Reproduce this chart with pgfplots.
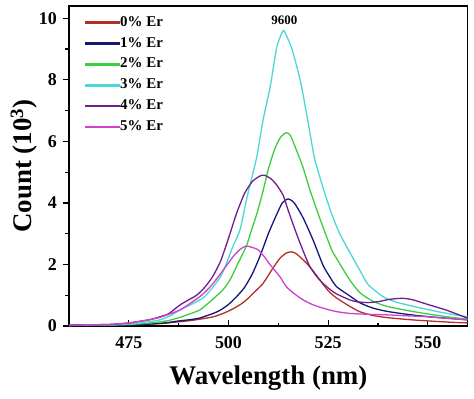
\documentclass[border=0pt]{standalone}
\usepackage{fontspec}
\setmainfont{Liberation Serif}
\usepackage{pgfplots}
\pgfplotsset{compat=1.18}
\definecolor{c0}{RGB}{178,48,40}
\definecolor{c1}{RGB}{22,22,120}
\definecolor{c2}{RGB}{60,205,60}
\definecolor{c3}{RGB}{75,215,215}
\definecolor{c4}{RGB}{112,30,142}
\definecolor{c5}{RGB}{205,65,205}
\begin{document}
\begin{tikzpicture}
\useasboundingbox (-69bp,-73bp) rectangle (405bp,326bp);
\begin{axis}[
  scale only axis, width=398.7bp, height=320bp,
  xmin=460, xmax=560, ymin=0, ymax=10.4,
  xtick={475,500,525,550}, ytick={0,2,4,6,8,10},
  minor x tick num=1, minor y tick num=1,
  tick pos=left,
  xtick align=inside, ytick align=outside,
  major tick length=6bp, minor tick length=3.5bp,
  axis line style={line width=1.5bp},
  every tick/.style={black, line width=1.2bp},
  /pgf/number format/assume math mode=true,
  ticklabel style={font=\fontsize{18}{21}\selectfont\bfseries},
  x tick label style={anchor=base, yshift=-22bp},
  y tick label style={anchor=east, inner sep=0pt, xshift=-6bp},
  xlabel={Wavelength (nm)},
  ylabel={Count (10\textsuperscript{3})},
  label style={font=\fontsize{27}{30}\selectfont\bfseries},
  x label style={at={(axis description cs:0.5,-0.184)}, anchor=base},
  y label style={at={(axis description cs:-0.0928,0.5)}, anchor=base},
  legend style={draw=none, fill=none, at={(axis description cs:0.04,0.969)}, anchor=north west,
    font=\fontsize{15}{17}\selectfont\bfseries, inner sep=0pt, row sep=7.9bp,
    nodes={inner sep=0pt, text height=10bp, text depth=3bp}},
  legend cell align=left,
  /tikz/every even column/.append style={column sep=3bp},
  legend image code/.code={\path[draw=none, fill, #1] (0bp,-1.2bp) rectangle (35bp,1.2bp);},
  every axis plot/.append style={line width=1.3bp, smooth, tension=0.4},
]
% 0% Er
\addplot[c0] coordinates {(460,0.02) (465,0.02) (470,0.03) (475,0.04) (480,0.06) (484,0.09) (487.8,0.14) (490,0.17) (492.8,0.22) (496.2,0.3) (498.7,0.41) (501,0.55) (503,0.7) (504.5,0.85) (506.5,1.1) (508.7,1.39) (511,1.85) (512.9,2.2) (514.5,2.37) (515.8,2.41) (517,2.35) (519.6,2.04) (521.3,1.78) (522.9,1.5) (525,1.15) (527,0.92) (530.4,0.64) (533,0.46) (536.3,0.34) (540,0.27) (546,0.2) (552,0.15) (556,0.12) (560,0.1)};
% 1% Er
\addplot[c1] coordinates {(460,0.02) (465,0.02) (470,0.03) (475,0.04) (480,0.06) (484,0.1) (487.8,0.17) (490,0.2) (492.8,0.26) (496.2,0.41) (498,0.52) (500,0.7) (502,0.95) (504,1.25) (506,1.7) (508,2.3) (510,3.0) (512,3.6) (513.5,4.0) (515,4.13) (516.5,4.0) (518.7,3.52) (521.2,2.8) (523.7,1.98) (525.4,1.6) (527.1,1.28) (530.4,0.98) (533,0.75) (536.3,0.58) (540,0.47) (546,0.36) (552,0.28) (556,0.24) (560,0.2)};
% 2% Er
\addplot[c2] coordinates {(460,0.02) (465,0.03) (470,0.03) (475,0.05) (478,0.07) (482,0.12) (485,0.18) (487.8,0.28) (490,0.38) (492.8,0.52) (495,0.75) (497,0.98) (498.7,1.19) (500.4,1.5) (502.4,2.04) (504.5,2.6) (505.8,3.13) (507,3.6) (508.5,4.3) (510,5.1) (511.6,5.75) (513,6.12) (514.4,6.28) (515.5,6.2) (517,5.73) (518.7,5.15) (520.4,4.43) (522.9,3.5) (525.8,2.5) (527.1,2.2) (530.4,1.5) (533,1.08) (536.3,0.8) (540,0.63) (546.3,0.47) (552,0.35) (556,0.28) (560,0.22)};
% 3% Er
\addplot[c3] coordinates {(460,0.02) (465,0.03) (470,0.04) (475,0.06) (478,0.1) (482.8,0.2) (485.5,0.34) (487.8,0.52) (489.5,0.63) (491.6,0.76) (494,0.95) (496.2,1.28) (498,1.6) (499.5,2.04) (501,2.55) (502.9,3.13) (504.5,4.1) (505.8,4.8) (507.1,5.5) (508.7,6.71) (510.5,7.8) (512.1,9.05) (513.7,9.6) (514.5,9.45) (515.8,9.05) (517,8.5) (518.3,7.8) (520,6.6) (521.5,5.5) (523,4.8) (524.3,4.25) (526,3.6) (527.9,3.0) (530.4,2.4) (533,1.8) (535,1.35) (538.8,0.95) (542,0.78) (546,0.65) (552,0.48) (556,0.38) (560,0.3)};
% 4% Er
\addplot[c4] coordinates {(460,0.03) (465,0.04) (470,0.05) (475,0.1) (480,0.2) (482.8,0.3) (485,0.4) (487.8,0.68) (490,0.85) (492,1.0) (494,1.25) (496,1.6) (498,2.1) (500,2.85) (502,3.65) (504,4.3) (506,4.7) (508,4.88) (509,4.9) (510.5,4.8) (512,4.6) (513.7,4.25) (515,3.75) (517,3.02) (518.7,2.45) (520.4,1.93) (522.5,1.55) (524.6,1.28) (527,1.05) (530.4,0.85) (532.1,0.79) (535,0.76) (538,0.8) (540,0.86) (543.4,0.9) (546,0.86) (550,0.7) (555,0.5) (560,0.25)};
% 5% Er
\addplot[c5] coordinates {(460,0.03) (465,0.04) (470,0.05) (475,0.1) (480,0.2) (482.8,0.28) (485,0.38) (487.8,0.52) (490,0.7) (492.8,0.95) (494.5,1.15) (496.2,1.39) (498.7,1.82) (501.2,2.26) (503,2.5) (504.5,2.6) (506,2.55) (507.4,2.48) (509,2.25) (510.4,2.0) (512.9,1.6) (514.5,1.28) (516.5,1.05) (518.7,0.85) (521,0.7) (523.7,0.58) (527,0.47) (530.4,0.41) (535,0.38) (540,0.36) (545,0.33) (550,0.3) (555,0.25) (560,0.2)};
\legend{0\% Er,1\% Er,2\% Er,3\% Er,4\% Er,5\% Er}
\node[anchor=base, font=\fontsize{13}{15}\selectfont\bfseries] at (axis cs:514,9.8) {9600};
\end{axis}
\end{tikzpicture}
\end{document}
